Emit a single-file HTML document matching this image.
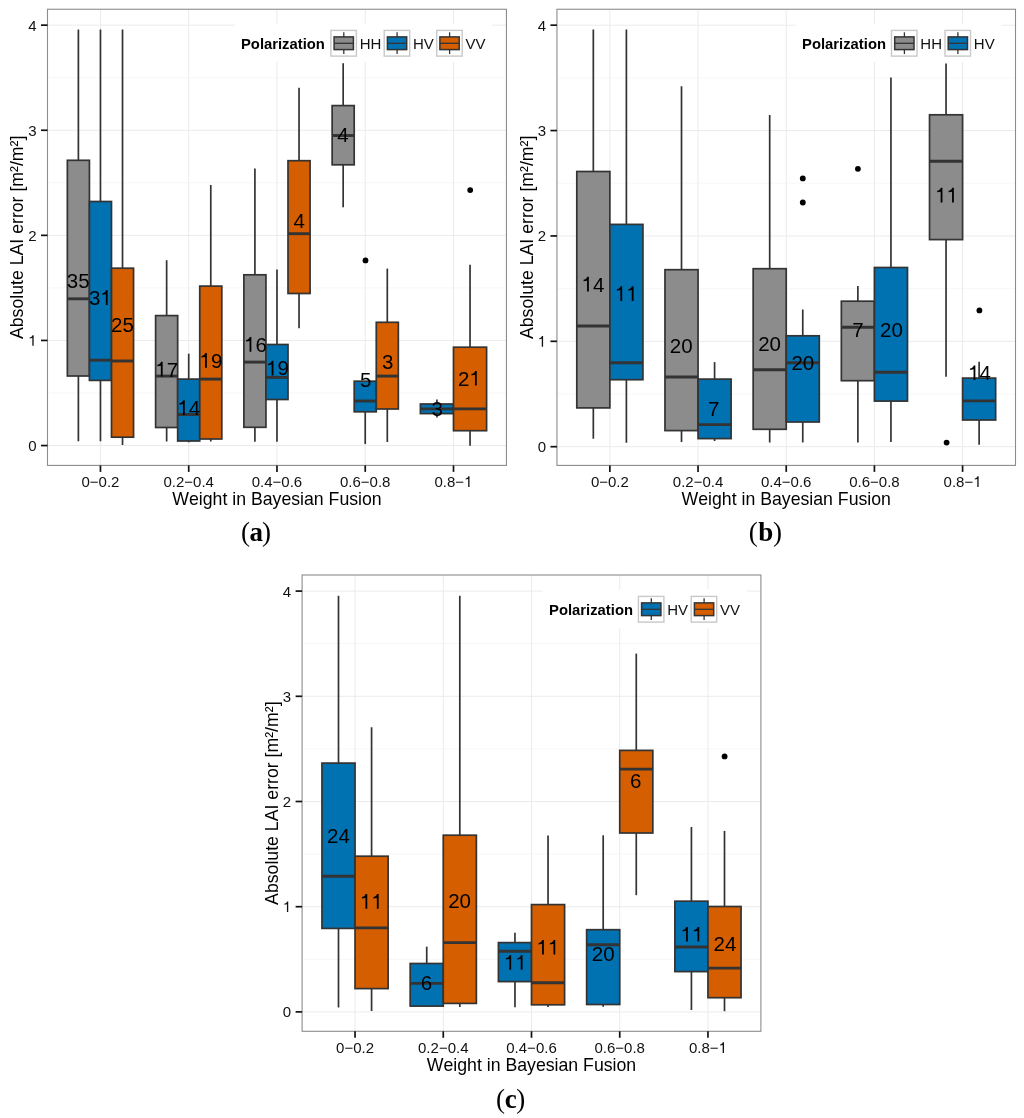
<!DOCTYPE html>
<html><head><meta charset="utf-8"><title>Figure</title>
<style>
html,body{margin:0;padding:0;background:#fff;}
svg{display:block;will-change:transform;}
text{font-family:"Liberation Sans", sans-serif;font-kerning:none;}
</style></head>
<body>
<svg width="1024" height="1118" viewBox="0 0 1024 1118">
<rect x="0" y="0" width="1024" height="1118" fill="#fff"/>
<line x1="47.5" y1="393" x2="506.45" y2="393" stroke="#f7f7f7" stroke-width="1"/>
<line x1="47.5" y1="287.9" x2="506.45" y2="287.9" stroke="#f7f7f7" stroke-width="1"/>
<line x1="47.5" y1="182.8" x2="506.45" y2="182.8" stroke="#f7f7f7" stroke-width="1"/>
<line x1="47.5" y1="77.7" x2="506.45" y2="77.7" stroke="#f7f7f7" stroke-width="1"/>
<line x1="47.5" y1="445.55" x2="506.45" y2="445.55" stroke="#ebebeb" stroke-width="1"/>
<line x1="47.5" y1="340.45" x2="506.45" y2="340.45" stroke="#ebebeb" stroke-width="1"/>
<line x1="47.5" y1="235.35" x2="506.45" y2="235.35" stroke="#ebebeb" stroke-width="1"/>
<line x1="47.5" y1="130.25" x2="506.45" y2="130.25" stroke="#ebebeb" stroke-width="1"/>
<line x1="47.5" y1="25.15" x2="506.45" y2="25.15" stroke="#ebebeb" stroke-width="1"/>
<line x1="100.46" y1="9.25" x2="100.46" y2="465.4" stroke="#ebebeb" stroke-width="1"/>
<line x1="188.72" y1="9.25" x2="188.72" y2="465.4" stroke="#ebebeb" stroke-width="1"/>
<line x1="276.97" y1="9.25" x2="276.97" y2="465.4" stroke="#ebebeb" stroke-width="1"/>
<line x1="365.23" y1="9.25" x2="365.23" y2="465.4" stroke="#ebebeb" stroke-width="1"/>
<line x1="453.49" y1="9.25" x2="453.49" y2="465.4" stroke="#ebebeb" stroke-width="1"/>
<line x1="78.39" y1="29.5" x2="78.39" y2="441.3" stroke="#333333" stroke-width="1.7"/>
<rect x="67.36" y="160.3" width="22.06" height="215.7" fill="#8c8c8c" stroke="#333333" stroke-width="1.7"/>
<line x1="67.36" y1="298.8" x2="89.42" y2="298.8" stroke="#333333" stroke-width="2.9"/>
<line x1="100.46" y1="29.5" x2="100.46" y2="441.3" stroke="#333333" stroke-width="1.7"/>
<rect x="89.42" y="201.5" width="22.06" height="178.9" fill="#0072b2" stroke="#333333" stroke-width="1.7"/>
<line x1="89.42" y1="360.2" x2="111.49" y2="360.2" stroke="#333333" stroke-width="2.9"/>
<line x1="122.52" y1="29.5" x2="122.52" y2="445.1" stroke="#333333" stroke-width="1.7"/>
<rect x="111.49" y="268.2" width="22.06" height="169" fill="#d55e00" stroke="#333333" stroke-width="1.7"/>
<line x1="111.49" y1="361" x2="133.55" y2="361" stroke="#333333" stroke-width="2.9"/>
<line x1="166.65" y1="260.2" x2="166.65" y2="441.5" stroke="#333333" stroke-width="1.7"/>
<rect x="155.62" y="315.6" width="22.06" height="111.9" fill="#8c8c8c" stroke="#333333" stroke-width="1.7"/>
<line x1="155.62" y1="376.1" x2="177.68" y2="376.1" stroke="#333333" stroke-width="2.9"/>
<line x1="188.72" y1="353.7" x2="188.72" y2="442.3" stroke="#333333" stroke-width="1.7"/>
<rect x="177.68" y="379.1" width="22.06" height="61.9" fill="#0072b2" stroke="#333333" stroke-width="1.7"/>
<line x1="177.68" y1="414.5" x2="199.75" y2="414.5" stroke="#333333" stroke-width="2.9"/>
<line x1="210.78" y1="184.9" x2="210.78" y2="441.5" stroke="#333333" stroke-width="1.7"/>
<rect x="199.75" y="286.1" width="22.06" height="152.9" fill="#d55e00" stroke="#333333" stroke-width="1.7"/>
<line x1="199.75" y1="379.1" x2="221.81" y2="379.1" stroke="#333333" stroke-width="2.9"/>
<line x1="254.91" y1="168.5" x2="254.91" y2="441.7" stroke="#333333" stroke-width="1.7"/>
<rect x="243.88" y="274.8" width="22.06" height="152.5" fill="#8c8c8c" stroke="#333333" stroke-width="1.7"/>
<line x1="243.88" y1="362.1" x2="265.94" y2="362.1" stroke="#333333" stroke-width="2.9"/>
<line x1="276.98" y1="269.4" x2="276.98" y2="441.7" stroke="#333333" stroke-width="1.7"/>
<rect x="265.94" y="344.5" width="22.06" height="55" fill="#0072b2" stroke="#333333" stroke-width="1.7"/>
<line x1="265.94" y1="377.4" x2="288.01" y2="377.4" stroke="#333333" stroke-width="2.9"/>
<line x1="299.04" y1="87.7" x2="299.04" y2="328.2" stroke="#333333" stroke-width="1.7"/>
<rect x="288.01" y="160.7" width="22.06" height="132.8" fill="#d55e00" stroke="#333333" stroke-width="1.7"/>
<line x1="288.01" y1="233.7" x2="310.07" y2="233.7" stroke="#333333" stroke-width="2.9"/>
<line x1="343.17" y1="63.2" x2="343.17" y2="207.3" stroke="#333333" stroke-width="1.7"/>
<rect x="332.14" y="105.6" width="22.06" height="59.2" fill="#8c8c8c" stroke="#333333" stroke-width="1.7"/>
<line x1="332.14" y1="135.5" x2="354.2" y2="135.5" stroke="#333333" stroke-width="2.9"/>
<line x1="365.23" y1="381.2" x2="365.23" y2="444.1" stroke="#333333" stroke-width="1.7"/>
<rect x="354.2" y="381.2" width="22.06" height="30.6" fill="#0072b2" stroke="#333333" stroke-width="1.7"/>
<line x1="354.2" y1="401" x2="376.27" y2="401" stroke="#333333" stroke-width="2.9"/>
<circle cx="365.5" cy="260.4" r="2.9" fill="#000"/>
<line x1="387.3" y1="268.6" x2="387.3" y2="442" stroke="#333333" stroke-width="1.7"/>
<rect x="376.27" y="322.3" width="22.06" height="86.7" fill="#d55e00" stroke="#333333" stroke-width="1.7"/>
<line x1="376.27" y1="376.1" x2="398.33" y2="376.1" stroke="#333333" stroke-width="2.9"/>
<line x1="436.95" y1="399.4" x2="436.95" y2="417.5" stroke="#333333" stroke-width="1.7"/>
<rect x="420.4" y="404" width="33.1" height="9.6" fill="#0072b2" stroke="#333333" stroke-width="1.7"/>
<line x1="420.4" y1="408.9" x2="453.49" y2="408.9" stroke="#333333" stroke-width="2.9"/>
<line x1="470.04" y1="264.8" x2="470.04" y2="445.8" stroke="#333333" stroke-width="1.7"/>
<rect x="453.49" y="347.2" width="33.1" height="83.5" fill="#d55e00" stroke="#333333" stroke-width="1.7"/>
<line x1="453.49" y1="408.9" x2="486.59" y2="408.9" stroke="#333333" stroke-width="2.9"/>
<circle cx="470.2" cy="190.1" r="2.9" fill="#000"/>
<text x="66.8" y="288.4" font-size="20.5" fill="#000">35</text>
<text x="88.9" y="305" font-size="20.5" fill="#000">3</text>
<path transform="translate(100.3,305) scale(0.02050,-0.02050)" d="M359 0L271 0L271 528L101 498L101 568C192 582 254 622 280 714L359 714Z" fill="#000"/>
<text x="111.1" y="332.2" font-size="20.5" fill="#000">25</text>
<path transform="translate(155.3,376.5) scale(0.02050,-0.02050)" d="M359 0L271 0L271 528L101 498L101 568C192 582 254 622 280 714L359 714Z" fill="#000"/>
<text x="166.7" y="376.5" font-size="20.5" fill="#000">7</text>
<path transform="translate(177.4,414.9) scale(0.02050,-0.02050)" d="M359 0L271 0L271 528L101 498L101 568C192 582 254 622 280 714L359 714Z" fill="#000"/>
<text x="188.8" y="414.9" font-size="20.5" fill="#000">4</text>
<path transform="translate(199.5,367.7) scale(0.02050,-0.02050)" d="M359 0L271 0L271 528L101 498L101 568C192 582 254 622 280 714L359 714Z" fill="#000"/>
<text x="210.9" y="367.7" font-size="20.5" fill="#000">9</text>
<path transform="translate(244,351.7) scale(0.02050,-0.02050)" d="M359 0L271 0L271 528L101 498L101 568C192 582 254 622 280 714L359 714Z" fill="#000"/>
<text x="255.4" y="351.7" font-size="20.5" fill="#000">6</text>
<path transform="translate(266.1,375.4) scale(0.02050,-0.02050)" d="M359 0L271 0L271 528L101 498L101 568C192 582 254 622 280 714L359 714Z" fill="#000"/>
<text x="277.5" y="375.4" font-size="20.5" fill="#000">9</text>
<text x="293.5" y="228.4" font-size="20.5" fill="#000">4</text>
<text x="337.2" y="142.3" font-size="20.5" fill="#000">4</text>
<text x="359.9" y="386.5" font-size="20.5" fill="#000">5</text>
<text x="382" y="368.6" font-size="20.5" fill="#000">3</text>
<text x="431.5" y="416.1" font-size="20.5" fill="#000">3</text>
<text x="458" y="385.6" font-size="20.5" fill="#000">2</text>
<path transform="translate(469.4,385.6) scale(0.02050,-0.02050)" d="M359 0L271 0L271 528L101 498L101 568C192 582 254 622 280 714L359 714Z" fill="#000"/>
<rect x="47.5" y="9.25" width="458.95" height="456.15" fill="none" stroke="#8c8c8c" stroke-width="1.1"/>
<line x1="41" y1="445.55" x2="47.5" y2="445.55" stroke="#111" stroke-width="1.7"/>
<text x="28.26" y="450.95" font-size="15" fill="#111">0</text>
<line x1="41" y1="340.45" x2="47.5" y2="340.45" stroke="#111" stroke-width="1.7"/>
<path transform="translate(28.26,345.85) scale(0.01500,-0.01500)" d="M359 0L271 0L271 528L101 498L101 568C192 582 254 622 280 714L359 714Z" fill="#111"/>
<line x1="41" y1="235.35" x2="47.5" y2="235.35" stroke="#111" stroke-width="1.7"/>
<text x="28.26" y="240.75" font-size="15" fill="#111">2</text>
<line x1="41" y1="130.25" x2="47.5" y2="130.25" stroke="#111" stroke-width="1.7"/>
<text x="28.26" y="135.65" font-size="15" fill="#111">3</text>
<line x1="41" y1="25.15" x2="47.5" y2="25.15" stroke="#111" stroke-width="1.7"/>
<text x="28.26" y="30.55" font-size="15" fill="#111">4</text>
<line x1="100.46" y1="465.4" x2="100.46" y2="471.9" stroke="#111" stroke-width="1.7"/>
<text x="81.48" y="487" font-size="15" fill="#111">0−0.2</text>
<line x1="188.72" y1="465.4" x2="188.72" y2="471.9" stroke="#111" stroke-width="1.7"/>
<text x="163.49" y="487" font-size="15" fill="#111">0.2−0.4</text>
<line x1="276.97" y1="465.4" x2="276.97" y2="471.9" stroke="#111" stroke-width="1.7"/>
<text x="251.74" y="487" font-size="15" fill="#111">0.4−0.6</text>
<line x1="365.23" y1="465.4" x2="365.23" y2="471.9" stroke="#111" stroke-width="1.7"/>
<text x="340" y="487" font-size="15" fill="#111">0.6−0.8</text>
<line x1="453.49" y1="465.4" x2="453.49" y2="471.9" stroke="#111" stroke-width="1.7"/>
<text x="434.52" y="487" font-size="15" fill="#111">0.8−</text>
<path transform="translate(464.13,487) scale(0.01500,-0.01500)" d="M359 0L271 0L271 528L101 498L101 568C192 582 254 622 280 714L359 714Z" fill="#111"/>
<text x="276.98" y="504.8" font-size="17.7" text-anchor="middle" fill="#000">Weight in Bayesian Fusion</text>
<text transform="translate(23.2,237.32) rotate(-90)" x="0" y="0" font-size="17.7" text-anchor="middle" fill="#000">Absolute LAI error [m²/m²]</text>
<line x1="556.95" y1="394.01" x2="1015.5" y2="394.01" stroke="#f7f7f7" stroke-width="1"/>
<line x1="556.95" y1="288.63" x2="1015.5" y2="288.63" stroke="#f7f7f7" stroke-width="1"/>
<line x1="556.95" y1="183.25" x2="1015.5" y2="183.25" stroke="#f7f7f7" stroke-width="1"/>
<line x1="556.95" y1="77.87" x2="1015.5" y2="77.87" stroke="#f7f7f7" stroke-width="1"/>
<line x1="556.95" y1="446.7" x2="1015.5" y2="446.7" stroke="#ebebeb" stroke-width="1"/>
<line x1="556.95" y1="341.32" x2="1015.5" y2="341.32" stroke="#ebebeb" stroke-width="1"/>
<line x1="556.95" y1="235.94" x2="1015.5" y2="235.94" stroke="#ebebeb" stroke-width="1"/>
<line x1="556.95" y1="130.56" x2="1015.5" y2="130.56" stroke="#ebebeb" stroke-width="1"/>
<line x1="556.95" y1="25.18" x2="1015.5" y2="25.18" stroke="#ebebeb" stroke-width="1"/>
<line x1="609.86" y1="9.25" x2="609.86" y2="465.4" stroke="#ebebeb" stroke-width="1"/>
<line x1="698.04" y1="9.25" x2="698.04" y2="465.4" stroke="#ebebeb" stroke-width="1"/>
<line x1="786.22" y1="9.25" x2="786.22" y2="465.4" stroke="#ebebeb" stroke-width="1"/>
<line x1="874.41" y1="9.25" x2="874.41" y2="465.4" stroke="#ebebeb" stroke-width="1"/>
<line x1="962.59" y1="9.25" x2="962.59" y2="465.4" stroke="#ebebeb" stroke-width="1"/>
<line x1="593.33" y1="29.5" x2="593.33" y2="438.8" stroke="#333333" stroke-width="1.7"/>
<rect x="576.79" y="171.5" width="33.07" height="236.4" fill="#8c8c8c" stroke="#333333" stroke-width="1.7"/>
<line x1="576.79" y1="326" x2="609.86" y2="326" stroke="#333333" stroke-width="2.9"/>
<line x1="626.39" y1="29.5" x2="626.39" y2="442.8" stroke="#333333" stroke-width="1.7"/>
<rect x="609.86" y="224.4" width="33.07" height="155.3" fill="#0072b2" stroke="#333333" stroke-width="1.7"/>
<line x1="609.86" y1="362.8" x2="642.93" y2="362.8" stroke="#333333" stroke-width="2.9"/>
<line x1="681.51" y1="86.3" x2="681.51" y2="441.9" stroke="#333333" stroke-width="1.7"/>
<rect x="664.97" y="269.7" width="33.07" height="160.9" fill="#8c8c8c" stroke="#333333" stroke-width="1.7"/>
<line x1="664.97" y1="377" x2="698.04" y2="377" stroke="#333333" stroke-width="2.9"/>
<line x1="714.58" y1="362.1" x2="714.58" y2="441" stroke="#333333" stroke-width="1.7"/>
<rect x="698.04" y="379.1" width="33.07" height="59.5" fill="#0072b2" stroke="#333333" stroke-width="1.7"/>
<line x1="698.04" y1="424.6" x2="731.11" y2="424.6" stroke="#333333" stroke-width="2.9"/>
<line x1="769.69" y1="115" x2="769.69" y2="442.4" stroke="#333333" stroke-width="1.7"/>
<rect x="753.16" y="268.7" width="33.07" height="160.6" fill="#8c8c8c" stroke="#333333" stroke-width="1.7"/>
<line x1="753.16" y1="369.7" x2="786.22" y2="369.7" stroke="#333333" stroke-width="2.9"/>
<line x1="802.76" y1="309.5" x2="802.76" y2="442.4" stroke="#333333" stroke-width="1.7"/>
<rect x="786.22" y="335.8" width="33.07" height="86.2" fill="#0072b2" stroke="#333333" stroke-width="1.7"/>
<line x1="786.22" y1="362.8" x2="819.29" y2="362.8" stroke="#333333" stroke-width="2.9"/>
<circle cx="802.8" cy="178.4" r="2.9" fill="#000"/>
<circle cx="802.8" cy="202.5" r="2.9" fill="#000"/>
<line x1="857.87" y1="286" x2="857.87" y2="442.6" stroke="#333333" stroke-width="1.7"/>
<rect x="841.34" y="301.2" width="33.07" height="79.5" fill="#8c8c8c" stroke="#333333" stroke-width="1.7"/>
<line x1="841.34" y1="327.2" x2="874.41" y2="327.2" stroke="#333333" stroke-width="2.9"/>
<circle cx="857.9" cy="168.8" r="2.9" fill="#000"/>
<line x1="890.94" y1="77.4" x2="890.94" y2="442" stroke="#333333" stroke-width="1.7"/>
<rect x="874.41" y="267.5" width="33.07" height="133.6" fill="#0072b2" stroke="#333333" stroke-width="1.7"/>
<line x1="874.41" y1="372.2" x2="907.48" y2="372.2" stroke="#333333" stroke-width="2.9"/>
<line x1="946.06" y1="63.5" x2="946.06" y2="376.7" stroke="#333333" stroke-width="1.7"/>
<rect x="929.52" y="114.8" width="33.07" height="124.8" fill="#8c8c8c" stroke="#333333" stroke-width="1.7"/>
<line x1="929.52" y1="161.2" x2="962.59" y2="161.2" stroke="#333333" stroke-width="2.9"/>
<circle cx="946.6" cy="442.6" r="2.9" fill="#000"/>
<line x1="979.12" y1="361.7" x2="979.12" y2="444.7" stroke="#333333" stroke-width="1.7"/>
<rect x="962.59" y="378.1" width="33.07" height="41.9" fill="#0072b2" stroke="#333333" stroke-width="1.7"/>
<line x1="962.59" y1="400.9" x2="995.66" y2="400.9" stroke="#333333" stroke-width="2.9"/>
<circle cx="979.4" cy="310.4" r="2.9" fill="#000"/>
<path transform="translate(581.5,291.5) scale(0.02050,-0.02050)" d="M359 0L271 0L271 528L101 498L101 568C192 582 254 622 280 714L359 714Z" fill="#000"/>
<text x="592.9" y="291.5" font-size="20.5" fill="#000">4</text>
<path transform="translate(614.8,300.9) scale(0.02050,-0.02050)" d="M359 0L271 0L271 528L101 498L101 568C192 582 254 622 280 714L359 714Z" fill="#000"/>
<path transform="translate(626.2,300.9) scale(0.02050,-0.02050)" d="M359 0L271 0L271 528L101 498L101 568C192 582 254 622 280 714L359 714Z" fill="#000"/>
<text x="669.8" y="353" font-size="20.5" fill="#000">20</text>
<text x="708.1" y="415.9" font-size="20.5" fill="#000">7</text>
<text x="758.2" y="351.2" font-size="20.5" fill="#000">20</text>
<text x="791.4" y="370" font-size="20.5" fill="#000">20</text>
<text x="852.2" y="336.8" font-size="20.5" fill="#000">7</text>
<text x="880" y="336.8" font-size="20.5" fill="#000">20</text>
<path transform="translate(935.1,202.5) scale(0.02050,-0.02050)" d="M359 0L271 0L271 528L101 498L101 568C192 582 254 622 280 714L359 714Z" fill="#000"/>
<path transform="translate(946.5,202.5) scale(0.02050,-0.02050)" d="M359 0L271 0L271 528L101 498L101 568C192 582 254 622 280 714L359 714Z" fill="#000"/>
<path transform="translate(968,380.1) scale(0.02050,-0.02050)" d="M359 0L271 0L271 528L101 498L101 568C192 582 254 622 280 714L359 714Z" fill="#000"/>
<text x="979.4" y="380.1" font-size="20.5" fill="#000">4</text>
<rect x="556.95" y="9.25" width="458.55" height="456.15" fill="none" stroke="#8c8c8c" stroke-width="1.1"/>
<line x1="550.45" y1="446.7" x2="556.95" y2="446.7" stroke="#111" stroke-width="1.7"/>
<text x="537.71" y="452.1" font-size="15" fill="#111">0</text>
<line x1="550.45" y1="341.32" x2="556.95" y2="341.32" stroke="#111" stroke-width="1.7"/>
<path transform="translate(537.71,346.72) scale(0.01500,-0.01500)" d="M359 0L271 0L271 528L101 498L101 568C192 582 254 622 280 714L359 714Z" fill="#111"/>
<line x1="550.45" y1="235.94" x2="556.95" y2="235.94" stroke="#111" stroke-width="1.7"/>
<text x="537.71" y="241.34" font-size="15" fill="#111">2</text>
<line x1="550.45" y1="130.56" x2="556.95" y2="130.56" stroke="#111" stroke-width="1.7"/>
<text x="537.71" y="135.96" font-size="15" fill="#111">3</text>
<line x1="550.45" y1="25.18" x2="556.95" y2="25.18" stroke="#111" stroke-width="1.7"/>
<text x="537.71" y="30.58" font-size="15" fill="#111">4</text>
<line x1="609.86" y1="465.4" x2="609.86" y2="471.9" stroke="#111" stroke-width="1.7"/>
<text x="590.88" y="487" font-size="15" fill="#111">0−0.2</text>
<line x1="698.04" y1="465.4" x2="698.04" y2="471.9" stroke="#111" stroke-width="1.7"/>
<text x="672.81" y="487" font-size="15" fill="#111">0.2−0.4</text>
<line x1="786.22" y1="465.4" x2="786.22" y2="471.9" stroke="#111" stroke-width="1.7"/>
<text x="760.99" y="487" font-size="15" fill="#111">0.4−0.6</text>
<line x1="874.41" y1="465.4" x2="874.41" y2="471.9" stroke="#111" stroke-width="1.7"/>
<text x="849.18" y="487" font-size="15" fill="#111">0.6−0.8</text>
<line x1="962.59" y1="465.4" x2="962.59" y2="471.9" stroke="#111" stroke-width="1.7"/>
<text x="943.62" y="487" font-size="15" fill="#111">0.8−</text>
<path transform="translate(973.23,487) scale(0.01500,-0.01500)" d="M359 0L271 0L271 528L101 498L101 568C192 582 254 622 280 714L359 714Z" fill="#111"/>
<text x="786.23" y="504.8" font-size="17.7" text-anchor="middle" fill="#000">Weight in Bayesian Fusion</text>
<text transform="translate(532.65,237.32) rotate(-90)" x="0" y="0" font-size="17.7" text-anchor="middle" fill="#000">Absolute LAI error [m²/m²]</text>
<line x1="302.1" y1="959.3" x2="760.9" y2="959.3" stroke="#f7f7f7" stroke-width="1"/>
<line x1="302.1" y1="854.1" x2="760.9" y2="854.1" stroke="#f7f7f7" stroke-width="1"/>
<line x1="302.1" y1="748.9" x2="760.9" y2="748.9" stroke="#f7f7f7" stroke-width="1"/>
<line x1="302.1" y1="643.7" x2="760.9" y2="643.7" stroke="#f7f7f7" stroke-width="1"/>
<line x1="302.1" y1="1011.9" x2="760.9" y2="1011.9" stroke="#ebebeb" stroke-width="1"/>
<line x1="302.1" y1="906.7" x2="760.9" y2="906.7" stroke="#ebebeb" stroke-width="1"/>
<line x1="302.1" y1="801.5" x2="760.9" y2="801.5" stroke="#ebebeb" stroke-width="1"/>
<line x1="302.1" y1="696.3" x2="760.9" y2="696.3" stroke="#ebebeb" stroke-width="1"/>
<line x1="302.1" y1="591.1" x2="760.9" y2="591.1" stroke="#ebebeb" stroke-width="1"/>
<line x1="355.04" y1="575" x2="355.04" y2="1031.3" stroke="#ebebeb" stroke-width="1"/>
<line x1="443.27" y1="575" x2="443.27" y2="1031.3" stroke="#ebebeb" stroke-width="1"/>
<line x1="531.5" y1="575" x2="531.5" y2="1031.3" stroke="#ebebeb" stroke-width="1"/>
<line x1="619.73" y1="575" x2="619.73" y2="1031.3" stroke="#ebebeb" stroke-width="1"/>
<line x1="707.96" y1="575" x2="707.96" y2="1031.3" stroke="#ebebeb" stroke-width="1"/>
<line x1="338.5" y1="595.75" x2="338.5" y2="1007.5" stroke="#333333" stroke-width="1.7"/>
<rect x="321.95" y="763.1" width="33.09" height="165.3" fill="#0072b2" stroke="#333333" stroke-width="1.7"/>
<line x1="321.95" y1="876.3" x2="355.04" y2="876.3" stroke="#333333" stroke-width="2.9"/>
<line x1="371.58" y1="727.2" x2="371.58" y2="1011" stroke="#333333" stroke-width="1.7"/>
<rect x="355.04" y="856.2" width="33.09" height="132.4" fill="#d55e00" stroke="#333333" stroke-width="1.7"/>
<line x1="355.04" y1="927.9" x2="388.12" y2="927.9" stroke="#333333" stroke-width="2.9"/>
<line x1="426.73" y1="946.7" x2="426.73" y2="1007" stroke="#333333" stroke-width="1.7"/>
<rect x="410.18" y="963.5" width="33.09" height="42.6" fill="#0072b2" stroke="#333333" stroke-width="1.7"/>
<line x1="410.18" y1="983.4" x2="443.27" y2="983.4" stroke="#333333" stroke-width="2.9"/>
<line x1="459.81" y1="595.75" x2="459.81" y2="1007" stroke="#333333" stroke-width="1.7"/>
<rect x="443.27" y="835.2" width="33.09" height="168.2" fill="#d55e00" stroke="#333333" stroke-width="1.7"/>
<line x1="443.27" y1="942.6" x2="476.36" y2="942.6" stroke="#333333" stroke-width="2.9"/>
<line x1="514.96" y1="932.7" x2="514.96" y2="1007.3" stroke="#333333" stroke-width="1.7"/>
<rect x="498.41" y="942.6" width="33.09" height="39" fill="#0072b2" stroke="#333333" stroke-width="1.7"/>
<line x1="498.41" y1="951.2" x2="531.5" y2="951.2" stroke="#333333" stroke-width="2.9"/>
<line x1="548.04" y1="835.6" x2="548.04" y2="1007" stroke="#333333" stroke-width="1.7"/>
<rect x="531.5" y="904.6" width="33.09" height="100.2" fill="#d55e00" stroke="#333333" stroke-width="1.7"/>
<line x1="531.5" y1="982.8" x2="564.59" y2="982.8" stroke="#333333" stroke-width="2.9"/>
<line x1="603.19" y1="835.3" x2="603.19" y2="1006.8" stroke="#333333" stroke-width="1.7"/>
<rect x="586.64" y="929.7" width="33.09" height="74.8" fill="#0072b2" stroke="#333333" stroke-width="1.7"/>
<line x1="586.64" y1="944.8" x2="619.73" y2="944.8" stroke="#333333" stroke-width="2.9"/>
<line x1="636.27" y1="653.6" x2="636.27" y2="895.2" stroke="#333333" stroke-width="1.7"/>
<rect x="619.73" y="750.4" width="33.09" height="82.6" fill="#d55e00" stroke="#333333" stroke-width="1.7"/>
<line x1="619.73" y1="769.1" x2="652.82" y2="769.1" stroke="#333333" stroke-width="2.9"/>
<line x1="691.42" y1="827" x2="691.42" y2="1010" stroke="#333333" stroke-width="1.7"/>
<rect x="674.87" y="901.2" width="33.09" height="70.4" fill="#0072b2" stroke="#333333" stroke-width="1.7"/>
<line x1="674.87" y1="947" x2="707.96" y2="947" stroke="#333333" stroke-width="2.9"/>
<line x1="724.5" y1="830.9" x2="724.5" y2="1011.2" stroke="#333333" stroke-width="1.7"/>
<rect x="707.96" y="906.5" width="33.09" height="91.2" fill="#d55e00" stroke="#333333" stroke-width="1.7"/>
<line x1="707.96" y1="968.1" x2="741.05" y2="968.1" stroke="#333333" stroke-width="2.9"/>
<circle cx="724.6" cy="756.4" r="2.9" fill="#000"/>
<text x="327" y="842.5" font-size="20.5" fill="#000">24</text>
<path transform="translate(359.9,908.7) scale(0.02050,-0.02050)" d="M359 0L271 0L271 528L101 498L101 568C192 582 254 622 280 714L359 714Z" fill="#000"/>
<path transform="translate(371.3,908.7) scale(0.02050,-0.02050)" d="M359 0L271 0L271 528L101 498L101 568C192 582 254 622 280 714L359 714Z" fill="#000"/>
<text x="420.8" y="990" font-size="20.5" fill="#000">6</text>
<text x="448.2" y="907.7" font-size="20.5" fill="#000">20</text>
<path transform="translate(503.8,969.8) scale(0.02050,-0.02050)" d="M359 0L271 0L271 528L101 498L101 568C192 582 254 622 280 714L359 714Z" fill="#000"/>
<path transform="translate(515.2,969.8) scale(0.02050,-0.02050)" d="M359 0L271 0L271 528L101 498L101 568C192 582 254 622 280 714L359 714Z" fill="#000"/>
<path transform="translate(536.5,954.6) scale(0.02050,-0.02050)" d="M359 0L271 0L271 528L101 498L101 568C192 582 254 622 280 714L359 714Z" fill="#000"/>
<path transform="translate(547.9,954.6) scale(0.02050,-0.02050)" d="M359 0L271 0L271 528L101 498L101 568C192 582 254 622 280 714L359 714Z" fill="#000"/>
<text x="591.8" y="960.7" font-size="20.5" fill="#000">20</text>
<text x="630.1" y="788.2" font-size="20.5" fill="#000">6</text>
<path transform="translate(680.5,941.6) scale(0.02050,-0.02050)" d="M359 0L271 0L271 528L101 498L101 568C192 582 254 622 280 714L359 714Z" fill="#000"/>
<path transform="translate(691.9,941.6) scale(0.02050,-0.02050)" d="M359 0L271 0L271 528L101 498L101 568C192 582 254 622 280 714L359 714Z" fill="#000"/>
<text x="713.5" y="950.9" font-size="20.5" fill="#000">24</text>
<rect x="302.1" y="575" width="458.8" height="456.3" fill="none" stroke="#8c8c8c" stroke-width="1.1"/>
<line x1="295.6" y1="1011.9" x2="302.1" y2="1011.9" stroke="#111" stroke-width="1.7"/>
<text x="282.86" y="1017.3" font-size="15" fill="#111">0</text>
<line x1="295.6" y1="906.7" x2="302.1" y2="906.7" stroke="#111" stroke-width="1.7"/>
<path transform="translate(282.86,912.1) scale(0.01500,-0.01500)" d="M359 0L271 0L271 528L101 498L101 568C192 582 254 622 280 714L359 714Z" fill="#111"/>
<line x1="295.6" y1="801.5" x2="302.1" y2="801.5" stroke="#111" stroke-width="1.7"/>
<text x="282.86" y="806.9" font-size="15" fill="#111">2</text>
<line x1="295.6" y1="696.3" x2="302.1" y2="696.3" stroke="#111" stroke-width="1.7"/>
<text x="282.86" y="701.7" font-size="15" fill="#111">3</text>
<line x1="295.6" y1="591.1" x2="302.1" y2="591.1" stroke="#111" stroke-width="1.7"/>
<text x="282.86" y="596.5" font-size="15" fill="#111">4</text>
<line x1="355.04" y1="1031.3" x2="355.04" y2="1037.8" stroke="#111" stroke-width="1.7"/>
<text x="336.06" y="1053" font-size="15" fill="#111">0−0.2</text>
<line x1="443.27" y1="1031.3" x2="443.27" y2="1037.8" stroke="#111" stroke-width="1.7"/>
<text x="418.04" y="1053" font-size="15" fill="#111">0.2−0.4</text>
<line x1="531.5" y1="1031.3" x2="531.5" y2="1037.8" stroke="#111" stroke-width="1.7"/>
<text x="506.27" y="1053" font-size="15" fill="#111">0.4−0.6</text>
<line x1="619.73" y1="1031.3" x2="619.73" y2="1037.8" stroke="#111" stroke-width="1.7"/>
<text x="594.5" y="1053" font-size="15" fill="#111">0.6−0.8</text>
<line x1="707.96" y1="1031.3" x2="707.96" y2="1037.8" stroke="#111" stroke-width="1.7"/>
<text x="688.99" y="1053" font-size="15" fill="#111">0.8−</text>
<path transform="translate(718.6,1053) scale(0.01500,-0.01500)" d="M359 0L271 0L271 528L101 498L101 568C192 582 254 622 280 714L359 714Z" fill="#111"/>
<text x="531.5" y="1070.8" font-size="17.7" text-anchor="middle" fill="#000">Weight in Bayesian Fusion</text>
<text transform="translate(277.8,803.15) rotate(-90)" x="0" y="0" font-size="17.7" text-anchor="middle" fill="#000">Absolute LAI error [m²/m²]</text>
<rect x="235" y="23.5" width="257" height="38.5" fill="#fff"/>
<text x="241" y="49" font-size="14.8" font-weight="bold" fill="#000">Polarization</text>
<rect x="330.9" y="30.4" width="25.5" height="25.7" fill="#fff" stroke="#c9c9c9" stroke-width="1.4"/>
<line x1="343.8" y1="32.3" x2="343.8" y2="54.1" stroke="#333333" stroke-width="1.3"/>
<rect x="334.1" y="36.9" width="19.3" height="12.7" fill="#8c8c8c" stroke="#333333" stroke-width="1.5"/>
<line x1="334.1" y1="43.3" x2="353.4" y2="43.3" stroke="#333333" stroke-width="1.3"/>
<text x="359.7" y="48.9" font-size="15" fill="#111">HH</text>
<rect x="384.2" y="30.4" width="25.5" height="25.7" fill="#fff" stroke="#c9c9c9" stroke-width="1.4"/>
<line x1="397.1" y1="32.3" x2="397.1" y2="54.1" stroke="#333333" stroke-width="1.3"/>
<rect x="387.4" y="36.9" width="19.3" height="12.7" fill="#0072b2" stroke="#333333" stroke-width="1.5"/>
<line x1="387.4" y1="43.3" x2="406.7" y2="43.3" stroke="#333333" stroke-width="1.3"/>
<text x="413" y="48.9" font-size="15" fill="#111">HV</text>
<rect x="436.7" y="30.4" width="25.5" height="25.7" fill="#fff" stroke="#c9c9c9" stroke-width="1.4"/>
<line x1="449.6" y1="32.3" x2="449.6" y2="54.1" stroke="#333333" stroke-width="1.3"/>
<rect x="439.9" y="36.9" width="19.3" height="12.7" fill="#d55e00" stroke="#333333" stroke-width="1.5"/>
<line x1="439.9" y1="43.3" x2="459.2" y2="43.3" stroke="#333333" stroke-width="1.3"/>
<text x="465.5" y="48.9" font-size="15" fill="#111">VV</text>
<rect x="795.5" y="23.5" width="206.1" height="38.5" fill="#fff"/>
<text x="802.1" y="49" font-size="14.8" font-weight="bold" fill="#000">Polarization</text>
<rect x="891.5" y="30.4" width="25.5" height="25.7" fill="#fff" stroke="#c9c9c9" stroke-width="1.4"/>
<line x1="904.4" y1="32.3" x2="904.4" y2="54.1" stroke="#333333" stroke-width="1.3"/>
<rect x="894.7" y="36.9" width="19.3" height="12.7" fill="#8c8c8c" stroke="#333333" stroke-width="1.5"/>
<line x1="894.7" y1="43.3" x2="914" y2="43.3" stroke="#333333" stroke-width="1.3"/>
<text x="920.3" y="48.9" font-size="15" fill="#111">HH</text>
<rect x="945" y="30.4" width="25.5" height="25.7" fill="#fff" stroke="#c9c9c9" stroke-width="1.4"/>
<line x1="957.9" y1="32.3" x2="957.9" y2="54.1" stroke="#333333" stroke-width="1.3"/>
<rect x="948.2" y="36.9" width="19.3" height="12.7" fill="#0072b2" stroke="#333333" stroke-width="1.5"/>
<line x1="948.2" y1="43.3" x2="967.5" y2="43.3" stroke="#333333" stroke-width="1.3"/>
<text x="973.8" y="48.9" font-size="15" fill="#111">HV</text>
<rect x="542.5" y="589.5" width="204.5" height="38.5" fill="#fff"/>
<text x="549.1" y="615" font-size="14.8" font-weight="bold" fill="#000">Polarization</text>
<rect x="638.4" y="596.4" width="25.5" height="25.7" fill="#fff" stroke="#c9c9c9" stroke-width="1.4"/>
<line x1="651.3" y1="598.3" x2="651.3" y2="620.1" stroke="#333333" stroke-width="1.3"/>
<rect x="641.6" y="602.9" width="19.3" height="12.7" fill="#0072b2" stroke="#333333" stroke-width="1.5"/>
<line x1="641.6" y1="609.3" x2="660.9" y2="609.3" stroke="#333333" stroke-width="1.3"/>
<text x="667.2" y="614.9" font-size="15" fill="#111">HV</text>
<rect x="691.2" y="596.4" width="25.5" height="25.7" fill="#fff" stroke="#c9c9c9" stroke-width="1.4"/>
<line x1="704.1" y1="598.3" x2="704.1" y2="620.1" stroke="#333333" stroke-width="1.3"/>
<rect x="694.4" y="602.9" width="19.3" height="12.7" fill="#d55e00" stroke="#333333" stroke-width="1.5"/>
<line x1="694.4" y1="609.3" x2="713.7" y2="609.3" stroke="#333333" stroke-width="1.3"/>
<text x="720" y="614.9" font-size="15" fill="#111">VV</text>
<text x="245.45" y="541.4" style="font-family:'Liberation Serif', serif" font-size="27" text-anchor="middle" fill="#000">(</text>
<text x="256.3" y="541.4" style="font-family:'Liberation Serif', serif" font-size="27" font-weight="bold" text-anchor="middle" fill="#000">a</text>
<text x="266.6" y="541.4" style="font-family:'Liberation Serif', serif" font-size="27" text-anchor="middle" fill="#000">)</text>
<text x="753.25" y="541.2" style="font-family:'Liberation Serif', serif" font-size="27" text-anchor="middle" fill="#000">(</text>
<text x="765.65" y="541.2" style="font-family:'Liberation Serif', serif" font-size="27" font-weight="bold" text-anchor="middle" fill="#000">b</text>
<text x="777.45" y="541.2" style="font-family:'Liberation Serif', serif" font-size="27" text-anchor="middle" fill="#000">)</text>
<text x="500.55" y="1107.8" style="font-family:'Liberation Serif', serif" font-size="27" text-anchor="middle" fill="#000">(</text>
<text x="510.7" y="1107.8" style="font-family:'Liberation Serif', serif" font-size="27" font-weight="bold" text-anchor="middle" fill="#000">c</text>
<text x="520.85" y="1107.8" style="font-family:'Liberation Serif', serif" font-size="27" text-anchor="middle" fill="#000">)</text>
</svg>
</body></html>
